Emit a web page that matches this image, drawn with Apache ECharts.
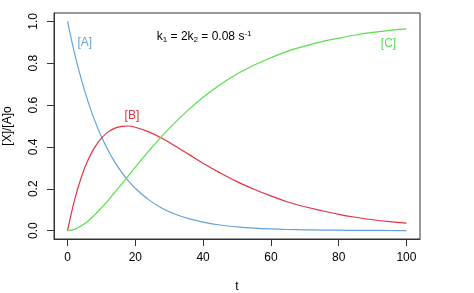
<!DOCTYPE html>
<html>
<head>
<meta charset="utf-8">
<script src="https://cdn.jsdelivr.net/npm/echarts@6/dist/echarts.min.js"></script>
<style>
  html, body { margin: 0; padding: 0; background: #fff; }
  #chart { width: 474px; height: 293px; }
</style>
</head>
<body>
<div id="chart"></div>
<script>
// time points (s) and relative concentrations
const times = [0, 2, 4, 6, 8, 10, 12, 14, 16, 18, 20, 24, 28, 32, 36, 40, 45, 50, 55, 60, 65, 70, 75, 80, 85, 90, 95, 100];
const concA = [1, 0.852, 0.726, 0.619, 0.527, 0.449, 0.383, 0.326, 0.278, 0.237, 0.202, 0.147, 0.106, 0.077, 0.056, 0.041, 0.027, 0.018, 0.012, 0.008, 0.0055, 0.004, 0.0025, 0.002, 0.001, 0.001, 0.0005, 0.0003];
const concB = [0, 0.142, 0.252, 0.336, 0.398, 0.442, 0.472, 0.490, 0.498, 0.500, 0.494, 0.472, 0.440, 0.402, 0.362, 0.322, 0.276, 0.234, 0.198, 0.166, 0.137, 0.114, 0.095, 0.078, 0.064, 0.052, 0.043, 0.036];
const concC = [0, 0.006, 0.022, 0.045, 0.075, 0.109, 0.145, 0.184, 0.224, 0.263, 0.304, 0.381, 0.454, 0.521, 0.582, 0.637, 0.697, 0.748, 0.790, 0.826, 0.858, 0.882, 0.903, 0.920, 0.935, 0.947, 0.957, 0.964];
const xTicks = [0, 20, 40, 60, 80, 100];
const yTicks = [0, 0.2, 0.4, 0.6, 0.8, 1.0];

const colA = '#64a3d8';
const colB = '#e2323f';
const colC = '#58e04a';

const font = 'Liberation Sans, Arial, Helvetica, sans-serif';

const toPairs = (ys) => times.map((t, i) => [t, ys[i]]);

const lineSeries = (name, ys, color, label, at) => ({
  name: name,
  type: 'line',
  data: toPairs(ys),
  smooth: 0.4,
  showSymbol: false,
  lineStyle: { color: color, width: 1.2 },
  itemStyle: { color: color },
  silent: true,
  markPoint: {
    symbol: 'circle',
    symbolSize: 0,
    label: {
      show: true,
      position: 'inside',
      formatter: label,
      color: color,
      fontFamily: font,
      fontSize: 12
    },
    data: [{ coord: at }]
  }
});

const chart = echarts.init(document.getElementById('chart'));

const option = {
  animation: false,
  backgroundColor: '#fff',
  grid: {
    left: 54, right: 54, top: 13, bottom: 54,
    outerBoundsMode: 'none',
    containLabel: false,
    show: true,
    borderColor: '#333',
    borderWidth: 1
  },
  xAxis: {
    type: 'value',
    min: -4,
    max: 104,
    name: 't',
    nameLocation: 'middle',
    nameGap: 42,
    nameTextStyle: { fontFamily: font, fontSize: 12, color: '#000' },
    axisLine: { show: true, onZero: false, lineStyle: { color: '#333' } },
    axisTick: { show: true, length: 7, inside: false, customValues: xTicks, lineStyle: { color: '#333' } },
    axisLabel: { customValues: xTicks, margin: 13, fontFamily: font, fontSize: 12, color: '#000' },
    splitLine: { show: false }
  },
  yAxis: {
    type: 'value',
    min: -0.04,
    max: 1.04,
    name: '[X]/[A]o',
    nameLocation: 'middle',
    nameGap: 40,
    nameTextStyle: { fontFamily: font, fontSize: 12, color: '#000' },
    axisLine: { show: true, onZero: false, lineStyle: { color: '#333' } },
    axisTick: { show: true, length: 7, inside: false, customValues: yTicks, lineStyle: { color: '#333' } },
    axisLabel: {
      customValues: yTicks,
      rotate: 90,
      margin: 14,
      fontFamily: font,
      fontSize: 12,
      color: '#000',
      formatter: (v) => v.toFixed(1)
    },
    splitLine: { show: false }
  },
  series: [
    lineSeries('A', concA, colA, '[A]', [5.1, 0.898]),
    lineSeries('B', concB, colB, '[B]', [19.0, 0.548]),
    lineSeries('C', concC, colC, '[C]', [94.7, 0.893]),
    {
      name: 'rate',
      type: 'line',
      data: [],
      markPoint: {
        symbol: 'circle',
        symbolSize: 0,
        label: {
          show: true,
          position: 'inside',
          fontFamily: font,
          fontSize: 12,
          color: '#000',
          formatter: '{t|k}{s|1}{t| = 2k}{s|2}{t| = 0.08 s}{p|-1}',
          rich: {
            t: { fontFamily: font, fontSize: 12, color: '#000' },
            s: { fontFamily: font, fontSize: 8, color: '#000', verticalAlign: 'bottom', padding: [6, 0, 0, 0] },
            p: { fontFamily: font, fontSize: 8, color: '#000', verticalAlign: 'top', padding: [0, 0, 6, 0] }
          }
        },
        data: [{ coord: [40.3, 0.927] }]
      }
    }
  ]
};

chart.setOption(option);
</script>
</body>
</html>
